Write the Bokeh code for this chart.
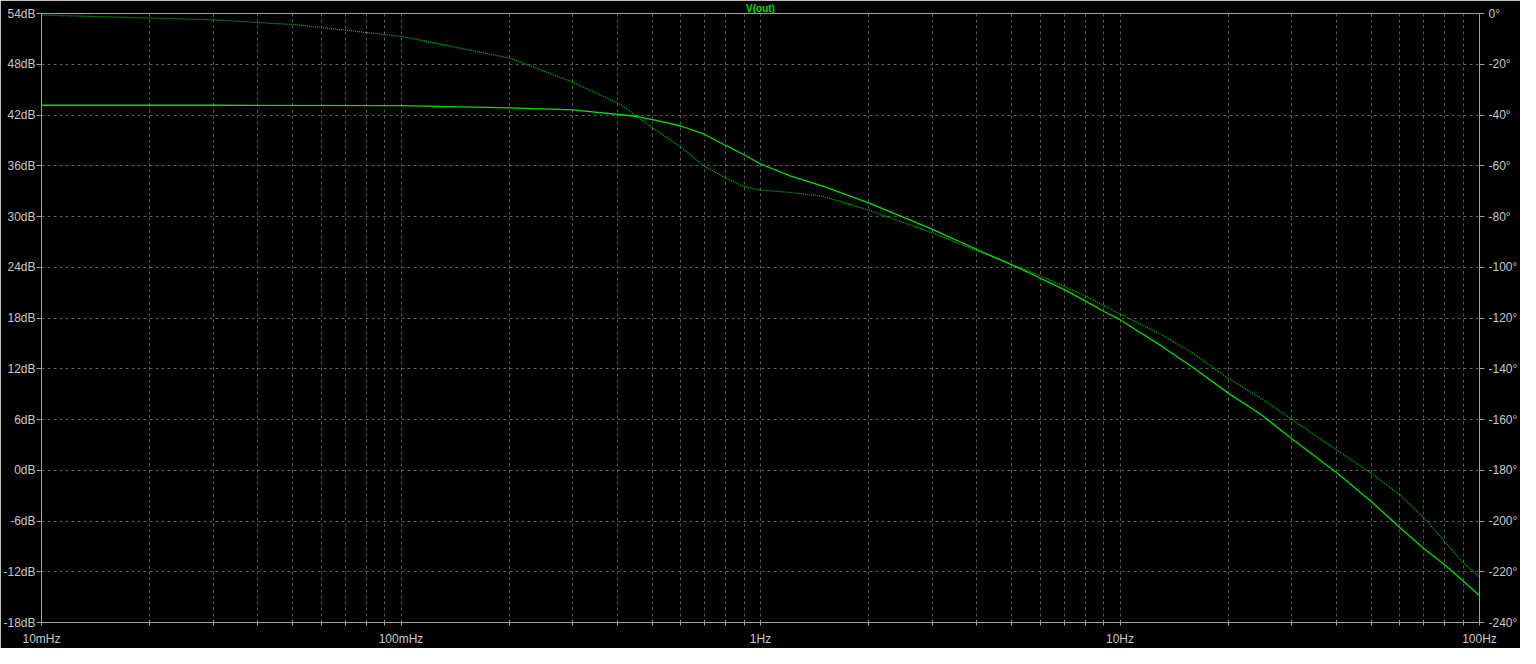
from bokeh.plotting import figure
from bokeh.models import Range1d, LinearAxis, FixedTicker
from bokeh.embed import file_html
from bokeh.resources import INLINE

# ---- data ----
freq_mag = [0.01, 0.03, 0.1, 0.2, 0.3, 0.45, 0.52, 0.6, 0.7, 0.8, 0.9, 1.0, 1.21, 1.49,
            2.0, 3.0, 4.0, 5.15, 6.0, 7.0, 8.0, 9.0, 10.0, 13.07, 16.14, 20.0,
            24.6, 30.0, 40.0, 50.0, 60.0, 70.0, 80.0, 90.0, 100.0]
mag_db = [43.15, 43.15, 43.1, 42.85, 42.6, 41.85, 41.3, 40.7, 39.7, 38.4, 37.3, 36.2,
          34.8, 33.6, 31.6, 28.5, 26.1, 24.05, 22.7, 21.36, 20.03, 18.8, 17.8, 14.67,
          12.0, 9.12, 6.63, 3.76, -0.26, -3.7, -6.77, -9.25, -11.17, -13.09, -14.8]

freq_ph = [0.01, 0.02, 0.03, 0.052, 0.086, 0.1, 0.2, 0.3, 0.41, 0.5, 0.6, 0.7,
           0.8, 0.9, 1.0, 1.21, 1.49, 2.0, 3.0, 4.0, 5.62, 7.0, 8.0, 9.0, 10.0,
           13.07, 16.14, 20.0, 24.6, 30.0, 40.0, 50.0, 60.0, 70.0, 80.0, 90.0, 100.0]
phase_deg = [-0.6, -1.8, -2.5, -4.5, -8.0, -9.0, -17.5, -27.0, -36.0, -45.0, -52.6,
             -60.3, -64.8, -68.2, -69.6, -70.5, -72.0, -77.5, -86.4, -93.5, -101.7,
             -107.5, -111.3, -115.1, -118.4, -126.6, -134.3, -143.8, -151.5, -159.8,
             -172.0, -181.2, -189.6, -198.7, -208.0, -216.4, -222.1]

freq_ticks = [0.01, 0.1, 1, 10, 100]
freq_labels = ["10mHz", "100mHz", "1Hz", "10Hz", "100Hz"]
db_ticks = [54, 48, 42, 36, 30, 24, 18, 12, 6, 0, -6, -12, -18]
db_labels = ["54dB", "48dB", "42dB", "36dB", "30dB", "24dB", "18dB", "12dB", "6dB",
             "0dB", "-6dB", "-12dB", "-18dB"]
phase_ticks = [0, -20, -40, -60, -80, -100, -120, -140, -160, -180, -200, -220, -240]
phase_labels = ["0°", "-20°", "-40°", "-60°", "-80°", "-100°", "-120°", "-140°",
                "-160°", "-180°", "-200°", "-220°", "-240°"]
title_text = "V(out)"

# ---- styling ----
AX = "#a0a0a0"
TXT = "#c8c8c8"
GRID = "#5a5a5a"
FONT = "Liberation Sans"

minor = [m * d for d in [0.01, 0.1, 1, 10] for m in range(2, 10)]
xticker = FixedTicker(ticks=freq_ticks, minor_ticks=minor)
yticker = FixedTicker(ticks=db_ticks)
pticker = FixedTicker(ticks=phase_ticks)

p = figure(width=1520, height=648, x_axis_type="log",
           x_range=Range1d(0.01, 100), y_range=Range1d(-18, 54),
           output_backend="svg", toolbar_location=None,
           background_fill_color="black", border_fill_color="black",
           min_border_left=40, min_border_right=32, min_border_top=4,
           min_border_bottom=24)
p.outline_line_color = AX
p.extra_y_ranges = {"phase": Range1d(-240, 0)}

p.title.text = title_text
p.title.align = "center"
p.title.text_color = "#00e000"
p.title.text_font = FONT
p.title.text_font_size = "10px"
p.title.text_font_style = "bold"
p.title.standoff = 0
p.title.offset = 0

xa = p.xaxis[0]
xa.ticker = xticker
xa.major_label_overrides = dict(zip(freq_ticks, freq_labels))
xa.major_tick_out = 3
xa.major_tick_in = 2
xa.minor_tick_out = 3
xa.minor_tick_in = 2
xa.major_label_standoff = 6

ya = p.yaxis[0]
ya.ticker = yticker
ya.major_label_overrides = dict(zip(db_ticks, db_labels))
ya.major_tick_out = 5
ya.major_tick_in = 0
ya.minor_tick_line_color = None
ya.major_label_standoff = 1

ra = LinearAxis(y_range_name="phase", ticker=pticker,
                major_label_overrides=dict(zip(phase_ticks, phase_labels)))
ra.major_tick_out = 5
ra.major_tick_in = 0
ra.minor_tick_line_color = None
ra.major_label_standoff = 4
p.add_layout(ra, "right")

for ax in (xa, ya, ra):
    ax.axis_line_color = AX
    ax.major_tick_line_color = AX
    ax.major_label_text_color = TXT
    ax.major_label_text_font = FONT
    ax.major_label_text_font_size = "12px"
xa.minor_tick_line_color = AX

p.xgrid.ticker = xticker
p.xgrid.grid_line_color = GRID
p.xgrid.grid_line_dash = "3 3"
p.xgrid.minor_grid_line_color = GRID
p.xgrid.minor_grid_line_dash = "3 3"
p.ygrid.ticker = yticker
p.ygrid.grid_line_color = GRID
p.ygrid.grid_line_dash = "3 3"

p.line(freq_mag, mag_db, line_color="#00e000", line_width=1.3)
p.line(freq_ph, phase_deg, y_range_name="phase", line_color="#00c800",
       line_width=1.2, line_dash="1 1")

open("out.html", "w").write(file_html(p, INLINE))
